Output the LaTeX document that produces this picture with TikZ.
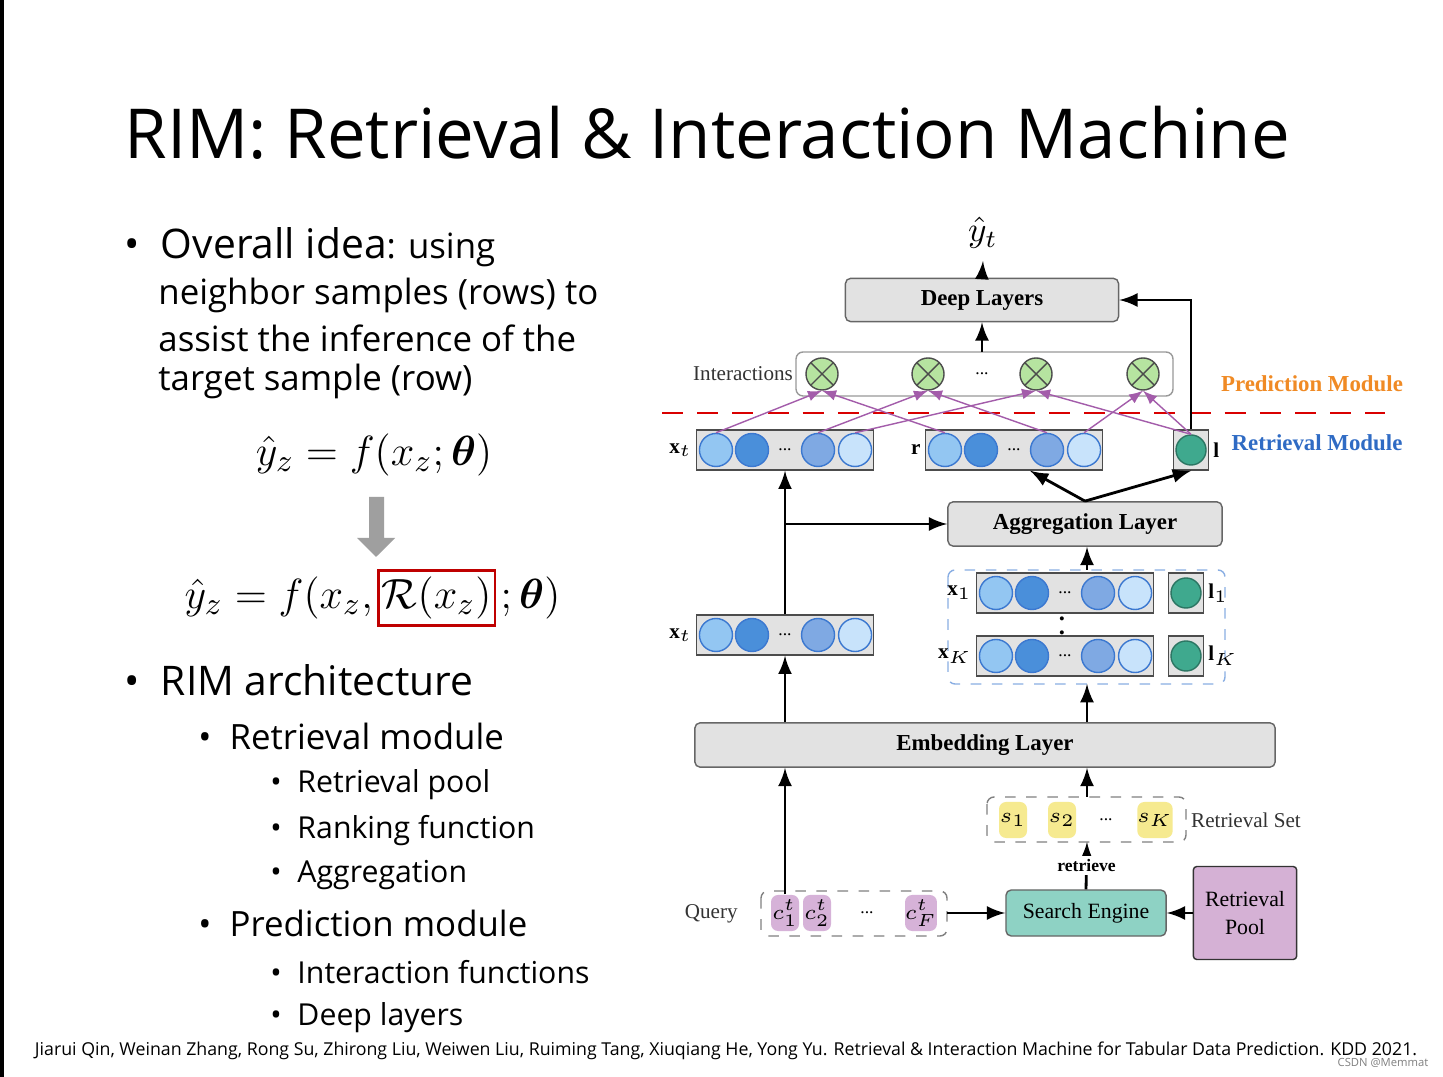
\documentclass[tikz,border=0pt]{standalone}
\usepackage{amsmath,amssymb}
\usepackage{fontspec}
\setmainfont{Liberation Serif}
\newfontfamily\slidefont{Open Sans}
\usetikzlibrary{arrows, positioning}

\definecolor{cA}{HTML}{93C6F2}
\definecolor{cB}{HTML}{4A8FDA}
\definecolor{cC}{HTML}{7FA9E3}
\definecolor{cD}{HTML}{C8E3FB}
\definecolor{cline}{HTML}{3B78D0}
\definecolor{boxgray}{HTML}{E2E2E2}
\definecolor{lgreen}{HTML}{3FA98E}
\definecolor{igreen}{HTML}{B6E4A0}
\definecolor{sy}{HTML}{F6EA90}
\definecolor{cq}{HTML}{D6B2D8}
\definecolor{seng}{HTML}{8ED2C4}
\definecolor{pool}{HTML}{D5B1D5}
\definecolor{arrpurple}{HTML}{A35CAA}
\definecolor{predorange}{HTML}{F08A24}
\definecolor{retblue}{HTML}{2F6BC4}

\tikzset{
  layer/.style={draw=black!60, fill=boxgray, rounded corners=1.5pt, minimum height=0.4cm, font=\bfseries\fontsize{6.5}{7}\selectfont},
  rowbox/.style={draw=black!70, fill=boxgray, minimum width=1.77cm, minimum height=0.4cm, inner sep=0pt},
  emb/.style={circle, draw=cline, minimum size=0.33cm, inner sep=0pt},
  lab/.style={draw=black!70, fill=boxgray, minimum width=0.35cm, minimum height=0.4cm, inner sep=0pt},
  lcirc/.style={circle, draw=lgreen!70!black, fill=lgreen, minimum size=0.3cm, inner sep=0pt},
  inter/.style={circle, draw=black!70, fill=igreen, minimum size=0.32cm, inner sep=0pt, path picture={
    \draw[black!70] (path picture bounding box.north west) -- (path picture bounding box.south east)
      (path picture bounding box.north east) -- (path picture bounding box.south west);}},
  tok/.style={rounded corners=2pt, minimum width=0.28cm, minimum height=0.36cm, inner sep=0pt, font=\fontsize{6.2}{7}\selectfont},
  flow/.style={->, >=latex, thick},
  pflow/.style={->, >=latex, arrpurple, thin},
  dbox/.style={draw=black!50, dashed, rounded corners=2pt},
  txt/.style={font=\fontsize{6}{7}\selectfont, text=black!80},
  vlab/.style={font=\bfseries\fontsize{6}{7}\selectfont, inner sep=1pt},
}

\newcommand{\embrow}[2]{%
  \node[rowbox] (#1) at (#2) {};
  \node[emb, fill=cA] (#1-1) at ([xshift=-0.69cm]#1.center) {};
  \node[emb, fill=cB] (#1-2) at ([xshift=-0.33cm]#1.center) {};
  \node[font=\tiny] at (#1.center) {...};
  \node[emb, fill=cC] (#1-3) at ([xshift=0.33cm]#1.center) {};
  \node[emb, fill=cD] (#1-4) at ([xshift=0.70cm]#1.center) {};
}

\begin{document}
\begin{tikzpicture}[x=0.01cm, y=-0.01cm]
\useasboundingbox[fill=white] (0,0) rectangle (1443,1077);
\fill[black] (0,0) rectangle (4,1077);

% slide text
\node[anchor=west, font=\slidefont\fontsize{19.6}{24}\selectfont] (title) at (112,133) {RIM: Retrieval \& Interaction Machine};

\begin{scope}[every node/.style={anchor=west, font=\slidefont\fontsize{9.9}{12}\selectfont}]
\node[font=\slidefont\fontsize{11.6}{14}\selectfont] (b1) at (112,247) {\textbullet\ \ Overall idea\fontsize{9.9}{12}\selectfont: using};
\node (b1a) at (146,295) {neighbor samples (rows) to};
\node (b1b) at (146,338) {assist the inference of the};
\node (b1c) at (146,381) {target sample (row)};
\node[font=\slidefont\fontsize{11.6}{14}\selectfont] (b2) at (112,680) {\textbullet\ \ RIM architecture};
\node (b3) at (186,736) {\textbullet\ \ Retrieval module};
\node[font=\slidefont\fontsize{8.6}{10}\selectfont] (b3a) at (258,785) {\textbullet\ \ Retrieval pool};
\node[font=\slidefont\fontsize{8.6}{10}\selectfont] (b3b) at (258,831) {\textbullet\ \ Ranking function};
\node[font=\slidefont\fontsize{8.6}{10}\selectfont] (b3c) at (258,875) {\textbullet\ \ Aggregation};
\node (b4) at (186,923) {\textbullet\ \ Prediction module};
\node[font=\slidefont\fontsize{8.6}{10}\selectfont] (b4a) at (258,972) {\textbullet\ \ Interaction functions};
\node[font=\slidefont\fontsize{8.6}{10}\selectfont] (b4b) at (258,1018) {\textbullet\ \ Deep layers};
\end{scope}

\node[font=\fontsize{12.5}{15}\selectfont] (f1) at (374,455) {$\hat{y}_z = f(x_z;\boldsymbol{\theta})$};
\node[font=\fontsize{12.5}{15}\selectfont, anchor=east, inner sep=1pt] (f2a) at (377,598) {$\hat{y}_z = f(x_z,$};
\node[font=\fontsize{12.5}{15}\selectfont, draw=red!75!black, thick, anchor=west, minimum height=0.55cm, inner sep=1pt] (f2b) at (377,598) {$\mathcal{R}(x_z)$};
\node[font=\fontsize{12.5}{15}\selectfont, anchor=west, inner sep=1pt] (f2c) at (f2b.east) {$;\boldsymbol{\theta})$};
\fill[gray!75] (369,497) -- (384,497) -- (384,538) -- (395,538) -- (376,557) -- (357,538) -- (369,538) -- cycle;

\node[font=\slidefont\fontsize{5.05}{6}\selectfont] (cite) at (726,1051) {Jiarui Qin, Weinan Zhang, Rong Su, Zhirong Liu, Weiwen Liu, Ruiming Tang, Xiuqiang He, Yong Yu. Retrieval \& Interaction Machine for Tabular Data Prediction. KDD 2021.};
\node[font=\slidefont\fontsize{3.2}{4}\selectfont, text=gray] (csdn) at (1383,1063) {CSDN @Memmat};

% diagram
\node (yt) at (983,233) {$\hat{y}_t$};
\node[layer, minimum width=2.73cm] (deep) at (982,300) {Deep Layers};
\draw[draw=black!40, fill=white, rounded corners=2pt] (796,352) rectangle (1173,396);
\coordinate (itop) at (982,352);
\node[inter] (i1) at (822,374) {};
\node[inter] (i2) at (928,374) {};
\node[font=\tiny] at (982,374) {...};
\node[inter] (i3) at (1036,374) {};
\node[inter] (i4) at (1143,374) {};
\node[txt, anchor=east, inner sep=1pt] (ilab) at (797,374) {Interactions};

\draw[red!85!black, dashed, thick, dash pattern=on 6pt off 4pt] (662,413) -- (1385,413);
\node[font=\bfseries\fontsize{6.5}{8}\selectfont, text=predorange] (pm) at (1312,384) {Prediction Module};
\node[font=\bfseries\fontsize{6.5}{8}\selectfont, text=retblue] (rm) at (1317,443) {Retrieval Module};

\embrow{xt}{785,450}
\node[vlab, anchor=east] at (xt.west) {$\mathbf{x}_t$};
\embrow{rr}{1014,450}
\node[vlab, anchor=east] at (rr.west) {$\mathbf{r}$};
\node[lab] (lb) at (1191,450) {};
\node[lcirc] (lc) at (lb.center) {};
\node[vlab, anchor=west] at (lb.east) {l};

\draw[pflow] (xt-1.north) -- (i1.south);
\draw[pflow] (rr-1.north) -- (i1.south);
\draw[pflow] (xt-3.north) -- (i2.south);
\draw[pflow] (rr-3.north) -- (i2.south);
\draw[pflow] (xt-4.north) -- (i3.south);
\draw[pflow] (lc.north) -- (i3.south);
\draw[pflow] (rr-4.north) -- (i4.south);
\draw[pflow] (lc.north) -- (i4.south);

\node[layer, minimum width=2.74cm] (agg) at (1085,524) {Aggregation Layer};
\draw[flow] (agg.north) -- ([xshift=0.16cm]rr.south);
\draw[flow] (agg.north) -- (lb.south);

\embrow{xq}{785,635}
\node[vlab, anchor=east] at (xq.west) {$\mathbf{x}_t$};
\coordinate (split) at (785,524);
\draw[flow] (xq.north) -- (xt.south);
\draw[flow] (split) -- (agg.west);

\draw[draw=cline!60, dashed, rounded corners=2pt] (948,570) rectangle (1225,684);
\coordinate (rtop) at (1087,570);
\coordinate (rbot) at (1087,684);
\embrow{x1}{1065,593}
\node[vlab, anchor=east] at (x1.west) {$\mathbf{x}_1$};
\node[lab] (l1) at (1186,593) {};
\node[lcirc] at (l1.center) {};
\node[vlab, anchor=west] at (l1.east) {$\mathbf{l}_1$};
\node[font=\bfseries\fontsize{7}{7}\selectfont, inner sep=0pt] at (1062,622) {$\vdots$};
\embrow{xk}{1065,656}
\node[vlab, anchor=east] at (xk.west) {$\mathbf{x}_K$};
\node[lab] (lk) at (1186,656) {};
\node[lcirc] at (lk.center) {};
\node[vlab, anchor=west] at (lk.east) {$\mathbf{l}_K$};
\draw[flow] (rtop) -- (agg.south -| rtop);

\node[layer, minimum width=5.8cm] (embl) at (985,745) {Embedding Layer};
\draw[flow] (embl.north -| xq) -- (xq.south);
\draw[flow] (embl.north -| rbot) -- (rbot);

\draw[dbox] (987,797) rectangle (1186,842);
\coordinate (stop) at (1087,797);
\coordinate (sbot) at (1087,842);
\node[tok, fill=sy] (s1) at (1013,820) {$s_1$};
\node[tok, fill=sy] (s2) at (1062,820) {$s_2$};
\node[font=\tiny] at (1106,820) {...};
\node[tok, fill=sy] (sk) at (1155,820) {$s_K$};
\node[txt, anchor=west, inner sep=1pt] (rset) at (1187,820) {Retrieval Set};
\draw[flow] (stop) -- (embl.south -| stop);

\node[draw=black!60, fill=seng, rounded corners=1.5pt, minimum width=1.6cm, minimum height=0.46cm, font=\fontsize{6.2}{7}\selectfont] (se) at (1086,913) {Search Engine};
\draw[flow] (se.north) -- node[fill=white, inner sep=1pt, font=\bfseries\fontsize{5}{6}\selectfont] {retrieve} (sbot);

\draw[dbox] (761,891) rectangle (947,936);
\node[tok, fill=cq] (c1) at (785,913) {$c^t_1$};
\node[tok, fill=cq] (c2) at (817,913) {$c^t_2$};
\node[font=\tiny] at (867,913) {...};
\node[tok, fill=cq] (cf) at (921,913) {$c^t_F$};
\coordinate (qright) at (947,913);
\node[txt, anchor=east] (query) at (750,914) {Query};
\draw[flow] (c1.north) -- (embl.south -| c1);
\draw[flow] (qright) -- (se.west);

\node[draw=black!80, fill=pool, rounded corners=1pt, minimum width=0.94cm, minimum height=0.93cm, align=center, font=\fontsize{6.2}{8}\selectfont] (rpool) at (1245,913) {Retrieval\\Pool};
\draw[flow] (rpool.west) -- (se.east);

\draw[flow] (itop) -- (deep.south);
\draw[flow] (deep.north) -- (yt.south);
\draw[flow] (lb.north) |- (deep.east);
\end{tikzpicture}
\end{document}
